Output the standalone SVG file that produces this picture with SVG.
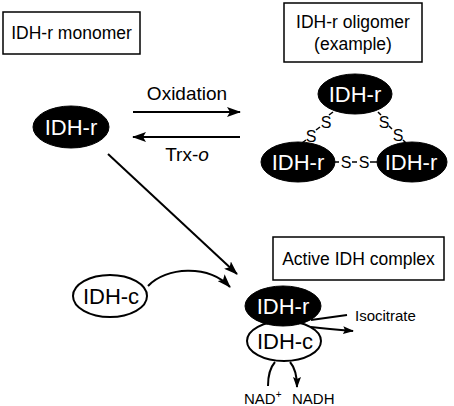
<svg xmlns="http://www.w3.org/2000/svg" width="454" height="406" viewBox="0 0 454 406">
<style>
text{font-family:"Liberation Sans",Arial,sans-serif;fill:#000}
.box{fill:#fff;stroke:#000;stroke-width:1.5}
.bt{font-size:17.5px;text-anchor:middle}
.lb{font-size:19px;text-anchor:middle}
.blk{fill:#000;stroke:#000;stroke-width:1}
.wht{fill:#fff;stroke:#000;stroke-width:2}
.wt{font-size:22px;text-anchor:middle;fill:#fff}
.kt{font-size:22px;text-anchor:middle}
.s{font-size:16px;text-anchor:middle}
.sm{font-size:15px}
.ln{fill:none;stroke:#000;stroke-width:2}
.bd{fill:none;stroke:#000;stroke-width:1.5}
</style>
<defs>
<marker id="ah" viewBox="0 0 14 10" refX="13" refY="5" markerWidth="14" markerHeight="10" markerUnits="userSpaceOnUse" orient="auto">
<path d="M0,0 L14,5 L0,10 L3,5 Z" fill="#000"/>
</marker>
<marker id="ahs" viewBox="0 0 11 8" refX="10" refY="4" markerWidth="11" markerHeight="8" markerUnits="userSpaceOnUse" orient="auto">
<path d="M0,0 L11,4 L0,8 L2,4 Z" fill="#000"/>
</marker>
</defs>

<g id="label-monomer">
<rect class="box" x="3" y="12" width="137" height="42"/>
<text class="bt" x="71.5" y="39">IDH-r monomer</text>
</g>
<g id="label-oligomer">
<rect class="box" x="284" y="3" width="138" height="59"/>
<text class="bt" x="353" y="28">IDH-r oligomer</text>
<text class="bt" x="353" y="50">(example)</text>
</g>
<g id="label-active">
<rect class="box" x="273" y="237" width="171" height="43"/>
<text class="bt" x="358.5" y="265">Active IDH complex</text>
</g>

<g id="connectors">
<line class="ln" x1="133" y1="112" x2="240" y2="112" marker-end="url(#ah)"/>
<line class="ln" x1="240" y1="137" x2="133" y2="137" marker-end="url(#ah)"/>
<line class="ln" x1="108" y1="154" x2="237" y2="274" marker-end="url(#ah)"/>
<path class="ln" d="M148,286 C166,267 208,264 230,287" marker-end="url(#ah)"/>
<line class="ln" x1="347" y1="315" x2="311" y2="320"/>
<path class="ln" d="M311,327 Q328,329 353,331" marker-end="url(#ahs)"/>
<path class="ln" d="M268,386 Q268,370 275,362"/>
<path class="ln" d="M290,362 Q297,370 297,387" marker-end="url(#ahs)"/>
<line class="bd" x1="333" y1="112" x2="329" y2="115"/>
<line class="bd" x1="320" y1="127" x2="316" y2="130"/>
<line class="bd" x1="306" y1="140" x2="302" y2="143"/>
<line class="bd" x1="378" y1="112" x2="381" y2="115"/>
<line class="bd" x1="389" y1="126" x2="392" y2="129"/>
<line class="bd" x1="403" y1="140" x2="406" y2="143"/>
<line class="bd" x1="334" y1="162" x2="339" y2="162"/>
<line class="bd" x1="352" y1="162" x2="357" y2="162"/>
<line class="bd" x1="370" y1="162" x2="377" y2="162"/>
</g>

<g id="text-labels">
<text class="lb" x="187" y="100">Oxidation</text>
<text class="lb" x="187" y="161">Trx-<tspan font-style="italic">o</tspan></text>
<text class="sm" x="355" y="321">Isocitrate</text>
<text class="sm" x="244" y="404">NAD<tspan font-size="10" dy="-6">+</tspan></text>
<text class="sm" x="292" y="404">NADH</text>
<text class="s" x="326" y="128">S</text>
<text class="s" x="311" y="142">S</text>
<text class="s" x="384" y="128">S</text>
<text class="s" x="398" y="141">S</text>
<text class="s" x="346" y="168">S</text>
<text class="s" x="364" y="168">S</text>
</g>

<g id="monomer">
<ellipse class="blk" cx="71" cy="127" rx="38" ry="21"/>
<text class="wt" x="71" y="135">IDH-r</text>
</g>
<g id="oligomer-top">
<ellipse class="blk" cx="355" cy="94" rx="37" ry="20"/>
<text class="wt" x="355" y="102">IDH-r</text>
</g>
<g id="oligomer-left">
<ellipse class="blk" cx="298" cy="162" rx="37" ry="20"/>
<text class="wt" x="298" y="170">IDH-r</text>
</g>
<g id="oligomer-right">
<ellipse class="blk" cx="412" cy="162" rx="35" ry="20"/>
<text class="wt" x="411" y="170">IDH-r</text>
</g>
<g id="idh-c">
<ellipse class="wht" cx="110" cy="296" rx="37" ry="21"/>
<text class="kt" x="111" y="304">IDH-c</text>
</g>
<g id="complex-c">
<ellipse class="wht" cx="284" cy="341" rx="37" ry="20"/>
<text class="kt" x="285" y="349">IDH-c</text>
</g>
<g id="complex-r">
<ellipse class="blk" cx="283" cy="306" rx="38" ry="20"/>
<text class="wt" x="283" y="314">IDH-r</text>
</g>
</svg>
